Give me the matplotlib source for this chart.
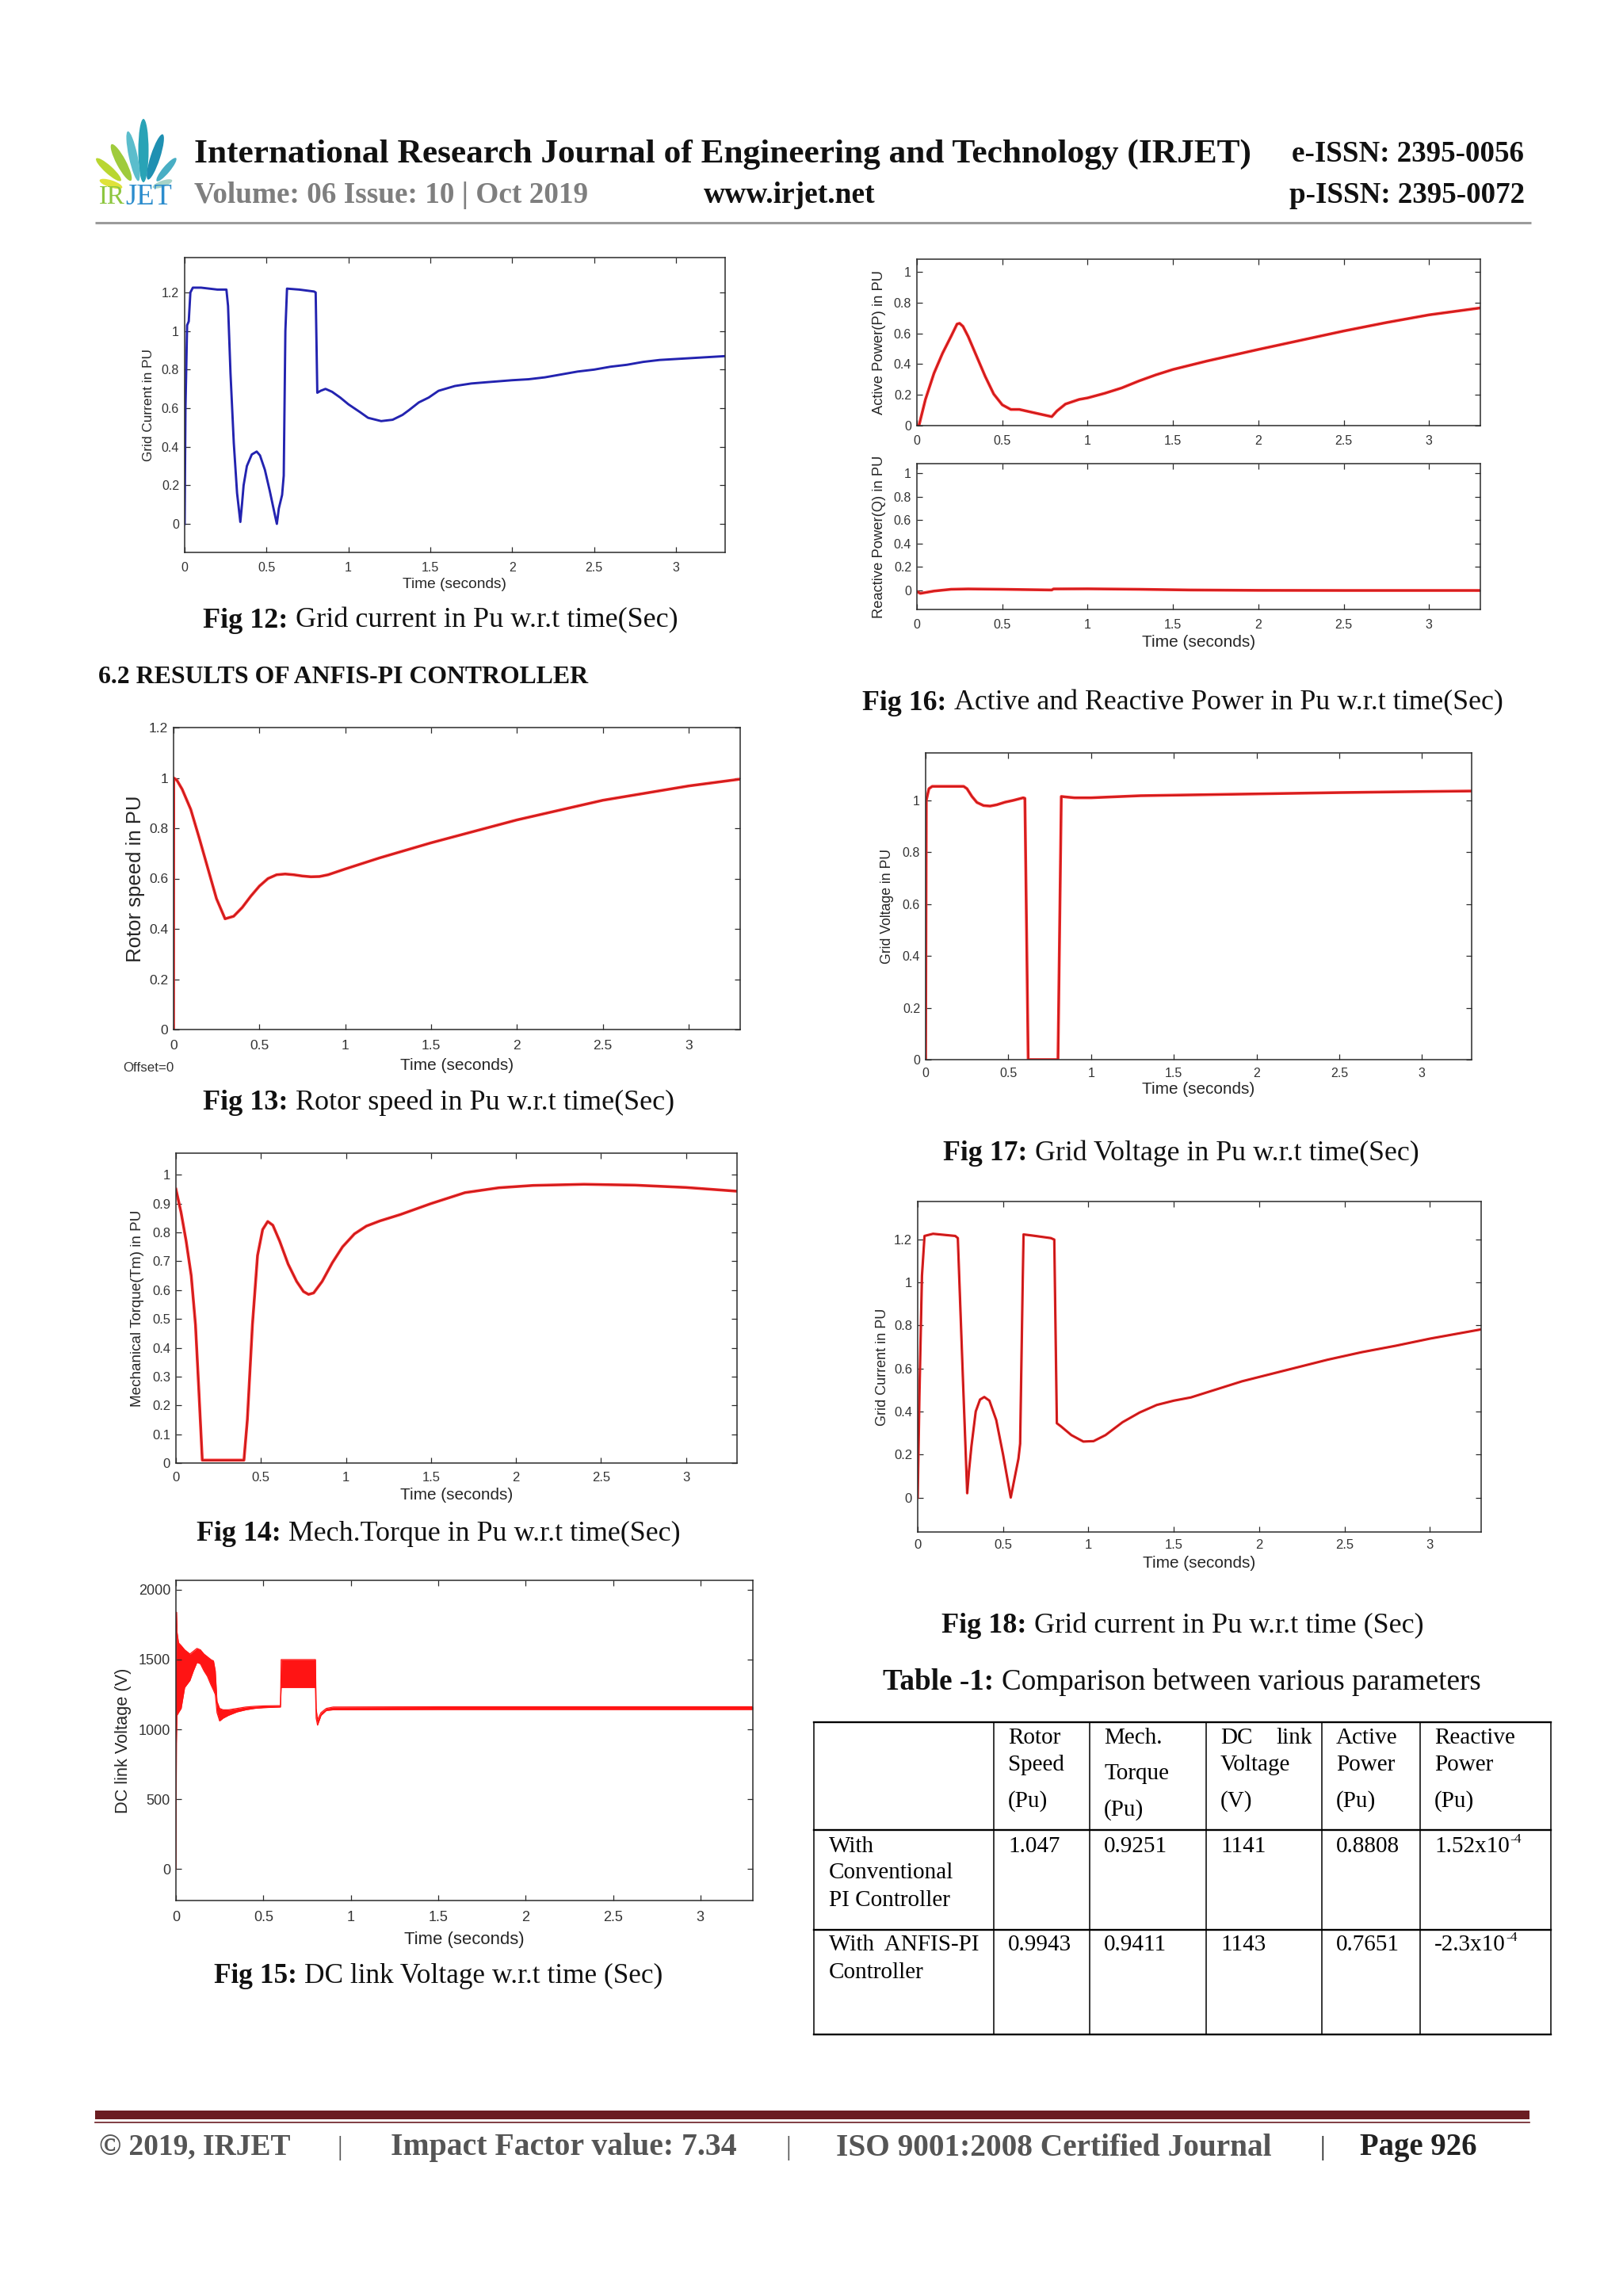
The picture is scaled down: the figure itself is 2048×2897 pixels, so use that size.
import numpy as np
import matplotlib
matplotlib.use('Agg')
import matplotlib.pyplot as plt
from matplotlib.patches import Ellipse
from matplotlib.ticker import FuncFormatter

# ======================= DATA =======================
# Fig 12 - grid current (conventional PI), blue
fig12_t = [0, 0.005, 0.015, 0.025, 0.035, 0.05, 0.1, 0.15, 0.2, 0.255, 0.265, 0.28, 0.30, 0.32, 0.34,
           0.35, 0.36, 0.38, 0.41, 0.44, 0.46, 0.49, 0.52, 0.55, 0.563, 0.575, 0.595, 0.605, 0.615, 0.625,
           0.7, 0.79, 0.80, 0.81, 0.83, 0.86, 0.9, 0.95, 1.0, 1.07, 1.12, 1.2, 1.27, 1.33, 1.37, 1.43, 1.49,
           1.55, 1.65, 1.75, 1.85, 2.0, 2.1, 2.2, 2.3, 2.4, 2.5, 2.6, 2.7, 2.8, 2.9, 3.0, 3.1, 3.2, 3.3]
fig12_i = [0, 0.6, 1.03, 1.05, 1.2, 1.225, 1.225, 1.22, 1.215, 1.215, 1.13, 0.78, 0.42, 0.16, 0.01,
           0.1, 0.2, 0.3, 0.36, 0.375, 0.355, 0.28, 0.17, 0.05, 0.0, 0.08, 0.15, 0.25, 1.0, 1.22,
           1.215, 1.205, 1.20, 0.68, 0.69, 0.70, 0.685, 0.655, 0.62, 0.58, 0.55, 0.533, 0.54, 0.565, 0.59, 0.63, 0.655,
           0.69, 0.715, 0.728, 0.735, 0.745, 0.75, 0.76, 0.775, 0.79, 0.80, 0.815, 0.825, 0.84, 0.85, 0.855, 0.86, 0.865, 0.87]

# Fig 16 - active power P
fig16_tp = [0, 0.012, 0.05, 0.1, 0.15, 0.2, 0.235, 0.25, 0.27, 0.3, 0.35, 0.4, 0.45, 0.5, 0.55, 0.6, 0.62,
            0.7, 0.79, 0.82, 0.87, 0.95, 1.0, 1.1, 1.2, 1.3, 1.4, 1.5, 1.7, 2.0, 2.25, 2.5, 2.75, 3.0, 3.3]
fig16_p = [0, 0.0, 0.17, 0.34, 0.47, 0.58, 0.66, 0.665, 0.645, 0.58, 0.45, 0.32, 0.205, 0.135, 0.105, 0.105, 0.1,
           0.08, 0.058, 0.095, 0.14, 0.17, 0.18, 0.21, 0.245, 0.29, 0.33, 0.365, 0.42, 0.495, 0.555, 0.615, 0.67, 0.72, 0.765]
# Fig 16 - reactive power Q
fig16_tq = [0, 0.02, 0.1, 0.2, 0.3, 0.5, 0.79, 0.8, 1.0, 1.3, 1.6, 2.0, 2.5, 3.3]
fig16_q = [-0.01, -0.025, -0.005, 0.01, 0.013, 0.01, 0.004, 0.013, 0.014, 0.01, 0.004, 0.001, 0.0, 0.0]

# Fig 13 - rotor speed
fig13_t = [0, 0.001, 0.02, 0.05, 0.1, 0.15, 0.2, 0.25, 0.3, 0.35, 0.4, 0.45, 0.5, 0.55, 0.6, 0.65, 0.7,
           0.75, 0.8, 0.85, 0.9, 1.0, 1.2, 1.5, 2.0, 2.5, 3.0, 3.3]
fig13_w = [0, 1.0, 0.99, 0.955, 0.875, 0.76, 0.64, 0.52, 0.44, 0.45, 0.485, 0.53, 0.57, 0.60, 0.615, 0.618, 0.615,
           0.61, 0.607, 0.608, 0.615, 0.638, 0.682, 0.742, 0.833, 0.911, 0.968, 0.995]

# Fig 17 - grid voltage
fig17_t = [0, 0.004, 0.02, 0.04, 0.23, 0.25, 0.28, 0.31, 0.35, 0.39, 0.43, 0.48, 0.53, 0.59, 0.6, 0.62,
           0.8, 0.82, 0.85, 0.9, 1.0, 1.3, 2.0, 2.5, 3.0, 3.3]
fig17_v = [0, 1.0, 1.045, 1.054, 1.054, 1.045, 1.015, 0.992, 0.98, 0.978, 0.983, 0.993, 1.0, 1.01, 1.008, 0.0,
           0.0, 1.015, 1.013, 1.01, 1.01, 1.018, 1.025, 1.03, 1.034, 1.036]

# Fig 14 - mechanical torque
fig14_t = [0, 0.03, 0.06, 0.09, 0.115, 0.135, 0.155, 0.4, 0.42, 0.45, 0.48, 0.51, 0.54, 0.57, 0.61, 0.66,
           0.71, 0.75, 0.78, 0.81, 0.86, 0.92, 0.98, 1.05, 1.12, 1.2, 1.32, 1.5, 1.7, 1.9, 2.1, 2.4, 2.7, 3.0, 3.3]
fig14_tm = [0.95, 0.87, 0.77, 0.65, 0.48, 0.25, 0.01, 0.01, 0.15, 0.48, 0.72, 0.81, 0.838, 0.825, 0.77, 0.69,
            0.63, 0.595, 0.585, 0.59, 0.63, 0.695, 0.75, 0.795, 0.822, 0.84, 0.862, 0.9, 0.938, 0.955, 0.963,
            0.967, 0.964, 0.956, 0.943]

# Fig 18 - grid current (ANFIS-PI)
fig18_t = [0, 0.01, 0.025, 0.04, 0.09, 0.22, 0.235, 0.265, 0.29, 0.3, 0.315, 0.34, 0.365, 0.39, 0.42, 0.46,
           0.5, 0.545, 0.57, 0.59, 0.6, 0.615, 0.62, 0.68, 0.78, 0.8, 0.815, 0.84, 0.9, 0.97, 1.03, 1.1, 1.2,
           1.3, 1.4, 1.5, 1.6, 1.7, 1.8, 1.9, 2.0, 2.2, 2.4, 2.6, 2.8, 3.0, 3.3]
fig18_i = [0, 0.47, 1.03, 1.215, 1.225, 1.215, 1.205, 0.55, 0.02, 0.12, 0.24, 0.40, 0.455, 0.467, 0.45, 0.36,
           0.2, 0.0, 0.1, 0.18, 0.25, 1.0, 1.222, 1.216, 1.205, 1.198, 0.345, 0.33, 0.29, 0.26, 0.262, 0.29, 0.35,
           0.395, 0.43, 0.45, 0.465, 0.49, 0.515, 0.54, 0.56, 0.6, 0.64, 0.675, 0.705, 0.738, 0.781]

# Fig 15 - DC link voltage, envelope of the oscillating trace
fig15_t = [0, 0.003, 0.006, 0.015, 0.03, 0.05, 0.08, 0.1, 0.12, 0.14, 0.16, 0.18, 0.2, 0.215, 0.225, 0.235,
           0.25, 0.27, 0.3, 0.35, 0.4, 0.45, 0.5, 0.598, 0.602, 0.7, 0.798, 0.802, 0.81, 0.83, 0.86, 0.9,
           1.5, 2.0, 2.5, 3.0, 3.3]
fig15_lo = [0, 900, 1100, 1120, 1150, 1300, 1350, 1420, 1480, 1470, 1420, 1380, 1320, 1280, 1250, 1120,
            1060, 1080, 1100, 1125, 1140, 1150, 1155, 1160, 1300, 1300, 1300, 1080, 1030, 1100, 1135, 1140,
            1142, 1142, 1142, 1142, 1142]
fig15_hi = [0, 1840, 1700, 1620, 1600, 1570, 1540, 1560, 1580, 1570, 1540, 1520, 1500, 1490, 1420, 1200,
            1150, 1140, 1140, 1150, 1160, 1165, 1168, 1170, 1500, 1500, 1500, 1150, 1070, 1120, 1150, 1160,
            1162, 1162, 1162, 1162, 1162]

x_ticks = [0, 0.5, 1, 1.5, 2, 2.5, 3]

# Table 1
tbl_header = [["Rotor", "Speed", "(Pu)"], ["Mech.", "Torque", "(Pu)"], ["DC", "Voltage", "(V)"],
              ["Active", "Power", "(Pu)"], ["Reactive", "Power", "(Pu)"]]
tbl_rows = [["With", "Conventional", "PI Controller"], ["With  ANFIS-PI", "Controller"]]
tbl_vals = [["1.047", "0.9251", "1141", "0.8808", "1.52x10"],
            ["0.9943", "0.9411", "1143", "0.7651", "-2.3x10"]]
tbl_exp = ["-4", "-4"]

captions = [("Fig 12:", "Grid current in Pu w.r.t time(Sec)"),
            ("Fig 13:", "Rotor speed in Pu w.r.t time(Sec)"),
            ("Fig 14:", "Mech.Torque in Pu w.r.t time(Sec)"),
            ("Fig 15:", "DC link Voltage w.r.t time (Sec)"),
            ("Fig 16:", "Active and Reactive Power in Pu w.r.t time(Sec)"),
            ("Fig 17:", "Grid Voltage in Pu w.r.t time(Sec)"),
            ("Fig 18:", "Grid current in Pu w.r.t time (Sec)"),
            ("Table -1:", "Comparison between various parameters")]

# ======================= FIGURE =======================
SERIF = ['Liberation Serif', 'DejaVu Serif']
SANS = ['Liberation Sans', 'DejaVu Sans']
plt.rcParams['font.family'] = SANS

W, H, DPI = 2048, 2897, 100
PT = 72.0 / DPI  # points per pixel

fig = plt.figure(figsize=(W / DPI, H / DPI), dpi=DPI, facecolor='white')
page = fig.add_axes([0, 0, 1, 1], zorder=0)
page.set_xlim(0, W)
page.set_ylim(H, 0)
page.axis('off')
R = fig.canvas.get_renderer()


def width_of(t):
    return t.get_window_extent(R).width


def fit_parts(parts, x0, x1, y, family=SERIF, size0=20.0, gapf=0.27):
    objs = [page.text(x0, y, s, fontsize=size0, fontweight=w, color=c, family=family,
                      ha='left', va='center') for s, w, c in parts]
    total = sum(width_of(o) for o in objs) + gapf * size0 / PT * (len(objs) - 1)
    size = size0 * (x1 - x0) / total
    x = x0
    for o in objs:
        o.set_fontsize(size)
        o.set_x(x)
        x += width_of(o) + gapf * size / PT
    return objs


# ---------------- header ----------------
leaves = [((181, 190), 13, 80, 0, '#29a3b6'), ((168, 197), 11, 64, 12, '#5bbdcc'),
          ((196, 198), 12, 60, -18, '#1f90b2'), ((210, 214), 9, 38, -40, '#48aec4'),
          ((153, 205), 12, 52, 28, '#9fcb3c'), ((137, 214), 10, 42, 48, '#b9d631'),
          ((140, 232), 9, 30, 72, '#dfe23b'), ((205, 232), 8, 26, -70, '#a6d3c8')]
for c, w_, h_, a, col in leaves:
    page.add_patch(Ellipse(c, w_, h_, angle=-a, color=col, lw=0))
fit_parts([("IR", 'normal', '#8dc63f')], 125, 158, 249, size0=18)
fit_parts([("JET", 'normal', '#2b8ccd')], 158, 217, 249, size0=18)

fit_parts([("International Research Journal of Engineering and Technology (IRJET)", 'bold', '#111111')],
          245, 1581, 195, size0=26)
fit_parts([("e-ISSN: 2395-0056", 'bold', '#111111')], 1630, 1923, 195, size0=26)
fit_parts([("Volume: 06 Issue: 10 | Oct 2019", 'bold', '#7f7f7f')], 245, 741, 247, size0=22)
fit_parts([("www.irjet.net", 'bold', '#111111')], 888, 1105, 247, size0=22)
fit_parts([("p-ISSN: 2395-0072", 'bold', '#111111')], 1627, 1923, 247, size0=22)
page.plot([120, 1932], [281, 281], color='#9b9b9b', lw=2.2, solid_capstyle='butt')

# ---------------- footer ----------------
page.fill_between([120, 1930], 2663, 2674, color='#6b1d22', lw=0)
page.plot([120, 1930], [2678, 2678], color='#6b1d22', lw=1.2)
fit_parts([("\u00a9 2019, IRJET", 'bold', '#555555')], 125, 366, 2710, size0=22)
fit_parts([("Impact Factor value: 7.34", 'bold', '#555555')], 493, 929, 2710, size0=22)
fit_parts([("ISO 9001:2008 Certified Journal", 'bold', '#555555')], 1055, 1605, 2710, size0=22)
fit_parts([("Page 926", 'bold', '#222222')], 1716, 1863, 2710, size0=22)
for xs, col in [(429, '#555555'), (995, '#555555'), (1669, '#222222')]:
    page.text(xs, 2710, "|", fontsize=24, color=col, family=SERIF, ha='center', va='center')

# ---------------- captions ----------------
cap_boxes = [(256, 853, 783), (256, 850, 1391), (248, 857, 1935), (270, 835, 2493),
             (1088, 1894, 887), (1190, 1789, 1455), (1188, 1794, 2052), (1114, 1869, 2122)]
for (b, rest), (x0, x1, y) in zip(captions, cap_boxes):
    fit_parts([(b, 'bold', '#111111'), (rest, 'normal', '#111111')], x0, x1, y, size0=22)
fit_parts([("6.2 RESULTS OF ANFIS-PI CONTROLLER", 'bold', '#111111')], 124, 742, 855, size0=22)


# ---------------- plots ----------------
def box_axes(l, r, t, b):
    return fig.add_axes([l / W, 1 - b / H, (r - l) / W, (b - t) / H], zorder=2)


fmt = FuncFormatter(lambda v, p: f'{round(v, 6):g}')


def setup(ax, box, ylim, yticks, tfs, tick_yc):
    l, r, t, b = box
    ax.set_xlim(0, 3.3)
    ax.set_ylim(*ylim)
    ax.set_xticks(x_ticks)
    ax.set_yticks(yticks)
    ax.xaxis.set_major_formatter(fmt)
    ax.yaxis.set_major_formatter(fmt)
    ax.tick_params(direction='in', top=True, right=True, length=5, width=0.9,
                   color='#2b2b2b', labelsize=tfs, labelcolor='#333333')
    pad = (tick_yc - b - 0.37 * tfs / PT) * PT
    ax.tick_params(axis='x', pad=pad)
    ax.tick_params(axis='y', pad=5)
    for s in ax.spines.values():
        s.set_linewidth(1.1)
        s.set_color('#2b2b2b')
    ax.set_facecolor('white')


def xlab(ax, box, text, yc, target_w):
    l, r, t, b = box
    lab = ax.set_xlabel(text, fontsize=13, va='center', ha='center', color='#262626')
    ax.xaxis.set_label_coords(0.5, (b - yc) / (b - t))
    lab.set_fontsize(13 * target_w / width_of(lab))


def ylab(ax, box, text, xc, target_len):
    l, r, t, b = box
    lab = ax.set_ylabel(text, fontsize=13, va='center', ha='center', color='#262626')
    ax.yaxis.set_label_coords((xc - l) / (r - l), 0.5)
    hgt = lab.get_window_extent(R).height
    lab.set_fontsize(13 * target_len / hgt)


def red_line(ax, t, v, w_out=2.6, w_in=0.55, c_out='#f22a2a', c_in='#a01212'):
    ax.plot(t, v, color=c_out, lw=w_out, solid_joinstyle='round')
    ax.plot(t, v, color=c_in, lw=w_in, solid_joinstyle='round')


# Fig 12
b12 = (233, 915, 325, 697)
ax = box_axes(*b12)
setup(ax, b12, (-0.148, 1.381), np.arange(0, 1.21, 0.2), 11.5, 715)
ax.plot(fig12_t, fig12_i, color='#2323b0', lw=2.1)
xlab(ax, b12, "Time (seconds)", 737, 131)
ylab(ax, b12, "Grid Current in PU", 187, 142)

# Fig 16 (P and Q)
b16a = (1157, 1868, 327, 537)
ax = box_axes(*b16a)
setup(ax, b16a, (0, 1.082), np.arange(0, 1.01, 0.2), 11.5, 555)
red_line(ax, fig16_tp, fig16_p)
ylab(ax, b16a, "Active Power(P) in PU", 1110, 182)

b16b = (1157, 1868, 585, 769)
ax = box_axes(*b16b)
setup(ax, b16b, (-0.162, 1.081), np.arange(0, 1.01, 0.2), 11.5, 787)
red_line(ax, fig16_tq, fig16_q)
xlab(ax, b16b, "Time (seconds)", 810, 143)
ylab(ax, b16b, "Reactive Power(Q) in PU", 1110, 205)

# Fig 13
b13 = (219, 934, 918, 1299)
ax = box_axes(*b13)
setup(ax, b13, (0, 1.2), np.arange(0, 1.21, 0.2), 12.5, 1318)
red_line(ax, fig13_t, fig13_w)
xlab(ax, b13, "Time (seconds)", 1345, 143)
ylab(ax, b13, "Rotor speed in PU", 171, 210)
fit_parts([("Offset=0", 'normal', '#333333')], 155, 219, 1347, family=SANS, size0=10)

# Fig 17
b17 = (1168, 1857, 950, 1337)
ax = box_axes(*b17)
setup(ax, b17, (0, 1.183), np.arange(0, 1.01, 0.2), 11.5, 1353)
red_line(ax, fig17_t, fig17_v)
xlab(ax, b17, "Time (seconds)", 1375, 142)
ylab(ax, b17, "Grid Voltage in PU", 1120, 145)

# Fig 14
b14 = (222, 930, 1455, 1846)
ax = box_axes(*b14)
setup(ax, b14, (0, 1.075), np.arange(0, 1.01, 0.1), 12, 1863)
red_line(ax, fig14_t, fig14_tm)
xlab(ax, b14, "Time (seconds)", 1887, 142)
ylab(ax, b14, "Mechanical Torque(Tm) in PU", 173, 248)

# Fig 18
b18 = (1158, 1869, 1516, 1933)
ax = box_axes(*b18)
setup(ax, b18, (-0.16, 1.375), np.arange(0, 1.21, 0.2), 12, 1948)
red_line(ax, fig18_t, fig18_i, w_out=2.3, w_in=0.5, c_out='#e82424', c_in='#9a1010')
xlab(ax, b18, "Time (seconds)", 1972, 142)
ylab(ax, b18, "Grid Current in PU", 1114, 148)

# Fig 15
b15 = (222, 950, 1994, 2398)
ax = box_axes(*b15)
setup(ax, b15, (-227, 2068), [0, 500, 1000, 1500, 2000], 13, 2418)
ax.fill_between(fig15_t, fig15_lo, fig15_hi, color='#ff1414', lw=0)
ax.plot(fig15_t, fig15_lo, color='#ff1414', lw=0.9)
ax.plot(fig15_t, fig15_hi, color='#ff1414', lw=0.9)
xlab(ax, b15, "Time (seconds)", 2447, 152)
ylab(ax, b15, "DC link Voltage (V)", 156, 184)

# ---------------- table ----------------
tx = [1027, 1254, 1375, 1522, 1668, 1792, 1957]
ty = [2173, 2309, 2435, 2567]
for y in ty:
    page.plot([tx[0], tx[-1]], [y, y], color='black', lw=1.7, solid_capstyle='projecting')
for x in tx:
    page.plot([x, x], [ty[0], ty[-1]], color='black', lw=1.1)

TFS = 21
head_y = [[2193, 2227, 2273], [2193, 2238, 2284], [2193, 2227, 2273], [2193, 2227, 2273], [2193, 2227, 2273]]
for ci, lines in enumerate(tbl_header):
    x = tx[ci + 1] + 18
    for li, s in enumerate(lines):
        page.text(x, head_y[ci][li], s, fontsize=TFS, family=SERIF, ha='left', va='center', color='black')
# "link" justified to the right of the DC column
page.text(tx[4] - 12, head_y[2][0], "link", fontsize=TFS, family=SERIF, ha='right', va='center', color='black')

row_y = [[2330, 2363, 2398], [2454, 2489]]
for ri, lines in enumerate(tbl_rows):
    for li, s in enumerate(lines):
        page.text(tx[0] + 19, row_y[ri][li], s, fontsize=TFS, family=SERIF, ha='left', va='center', color='black')
    for ci, s in enumerate(tbl_vals[ri]):
        t_ = page.text(tx[ci + 1] + 18, row_y[ri][0], s, fontsize=TFS, family=SERIF,
                       ha='left', va='center', color='black')
        if ci == len(tbl_vals[ri]) - 1:
            page.text(tx[ci + 1] + 18 + width_of(t_) + 1, row_y[ri][0] - 9, tbl_exp[ri],
                      fontsize=TFS * 0.6, family=SERIF, ha='left', va='center', color='black')

fig.savefig('out.png', dpi=DPI, facecolor='white')
